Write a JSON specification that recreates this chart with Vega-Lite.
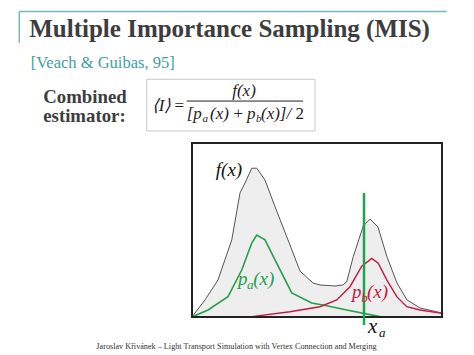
{
  "$schema": "https://vega.github.io/schema/vega-lite/v6.json",
  "width": 474,
  "height": 355,
  "autosize": {"type": "fit", "contains": "padding"},
  "padding": 0,
  "background": "white",
  "config": {"view": {"stroke": null}},
  "encoding": {
    "x": {"field": "x", "type": "quantitative", "scale": {"domain": [-7.68, 11.28], "nice": false, "zero": false}, "axis": null},
    "y": {"field": "y", "type": "quantitative", "scale": {"domain": [-2.184, 18.218], "nice": false, "zero": false}, "axis": null}
  },
  "layer": [
    {
      "data": {"values": [
        {"x": -6.908, "y": 17.55, "x2": 10.19, "y2": 17.55},
        {"x": -6.908, "y": 17.55, "x2": -6.908, "y2": 15.75}
      ]},
      "mark": {"type": "rule", "stroke": "#7ab6b9", "strokeWidth": 1.5},
      "encoding": {"x2": {"field": "x2"}, "y2": {"field": "y2"}}
    },
    {
      "data": {"values": [{"x": -6.51, "y": 16.11, "t": "Multiple Importance Sampling (MIS)"}]},
      "mark": {"type": "text", "align": "left", "baseline": "alphabetic", "font": "Liberation Serif, DejaVu Serif, serif", "fontWeight": "bold", "fontSize": 25, "color": "#3d3d3d"},
      "encoding": {"text": {"field": "t"}}
    },
    {
      "data": {"values": [{"x": -6.45, "y": 14.29, "t": "[Veach & Guibas, 95]"}]},
      "mark": {"type": "text", "align": "left", "baseline": "alphabetic", "font": "Liberation Serif, serif", "fontSize": 16.5, "color": "#3f9ea3"},
      "encoding": {"text": {"field": "t"}}
    },
    {
      "data": {"values": [
        {"x": -5.95, "y": 12.32, "t": "Combined"},
        {"x": -5.95, "y": 11.22, "t": "estimator:"}
      ]},
      "mark": {"type": "text", "align": "left", "baseline": "alphabetic", "font": "Liberation Serif, DejaVu Serif, serif", "fontWeight": "bold", "fontSize": 18.8, "color": "#3d3d3d"},
      "encoding": {"text": {"field": "t"}}
    },
    {
      "data": {"values": [{"x": -1.81, "x2": 4.92, "y": 13.66, "y2": 10.69}]},
      "mark": {"type": "rect", "fill": "white", "stroke": "#c8c8c8", "strokeWidth": 1},
      "encoding": {"x2": {"field": "x2"}, "y2": {"field": "y2"}}
    },
    {
      "data": {"values": [{"x": -0.212, "x2": 4.44, "y": 12.41, "y2": 12.41}]},
      "mark": {"type": "rule", "stroke": "#222", "strokeWidth": 1},
      "encoding": {"x2": {"field": "x2"}, "y2": {"field": "y2"}}
    },
    {
      "data": {"values": [
        {"x": -1.612, "y": 11.84, "t": "⟨I⟩"},
        {"x": -0.212, "y": 11.38, "t": "[p"},
        {"x": 0.72, "y": 11.38, "t": "(x)"},
        {"x": 2.2, "y": 11.38, "t": "p"},
        {"x": 2.76, "y": 11.38, "t": "(x)]/"}
      ]},
      "mark": {"type": "text", "align": "left", "baseline": "alphabetic", "font": "Liberation Serif, serif", "fontStyle": "italic", "fontSize": 17, "color": "#222"},
      "encoding": {"text": {"field": "t"}}
    },
    {
      "data": {"values": [
        {"x": -0.7, "y": 11.84, "t": "="},
        {"x": 1.66, "y": 11.38, "t": "+"},
        {"x": 4.14, "y": 11.38, "t": "2"}
      ]},
      "mark": {"type": "text", "align": "left", "baseline": "alphabetic", "font": "Liberation Serif, serif", "fontSize": 17, "color": "#222"},
      "encoding": {"text": {"field": "t"}}
    },
    {
      "data": {"values": [{"x": 2.08, "y": 12.7, "t": "f(x)"}]},
      "mark": {"type": "text", "align": "center", "baseline": "alphabetic", "font": "Liberation Serif, serif", "fontStyle": "italic", "fontSize": 17, "color": "#222"},
      "encoding": {"text": {"field": "t"}}
    },
    {
      "data": {"values": [
        {"x": 0.42, "y": 11.21, "t": "a"},
        {"x": 2.56, "y": 11.21, "t": "b"}
      ]},
      "mark": {"type": "text", "align": "left", "baseline": "alphabetic", "font": "Liberation Serif, serif", "fontStyle": "italic", "fontSize": 11, "color": "#222"},
      "encoding": {"text": {"field": "t"}}
    },
    {
      "data": {"values": [
        {"x": 0, "y": 0}, {"x": 0.52, "y": 0.98}, {"x": 1.04, "y": 2.13}, {"x": 1.59, "y": 4.43},
        {"x": 1.92, "y": 7.13}, {"x": 2.12, "y": 7.7}, {"x": 2.39, "y": 8.55}, {"x": 2.59, "y": 8.55},
        {"x": 2.92, "y": 7.87}, {"x": 3.32, "y": 6.34}, {"x": 3.84, "y": 4.43}, {"x": 4.32, "y": 2.64},
        {"x": 4.84, "y": 1.95}, {"x": 5.12, "y": 1.84}, {"x": 5.72, "y": 1.78}, {"x": 6.04, "y": 1.84},
        {"x": 6.19, "y": 2.03}, {"x": 6.45, "y": 3.47}, {"x": 6.85, "y": 5.23}, {"x": 7.12, "y": 5.63},
        {"x": 7.44, "y": 5.17}, {"x": 7.8, "y": 3.45}, {"x": 8.2, "y": 1.95}, {"x": 8.6, "y": 0.98},
        {"x": 9.12, "y": 0.52}, {"x": 10, "y": 0.23}
      ]},
      "layer": [
        {"mark": {"type": "area", "fill": "#eeeeee", "opacity": 1}, "encoding": {"y2": {"datum": 0}}},
        {"mark": {"type": "line", "stroke": "#555555", "strokeWidth": 1}}
      ]
    },
    {
      "data": {"values": [
        {"x": 0, "y": 0}, {"x": 0.64, "y": 0.4}, {"x": 1.44, "y": 1.17}, {"x": 1.99, "y": 2.7},
        {"x": 2.39, "y": 4.25}, {"x": 2.59, "y": 4.71}, {"x": 2.92, "y": 4.43}, {"x": 3.32, "y": 3.28},
        {"x": 3.99, "y": 1.38}, {"x": 4.79, "y": 0.8}, {"x": 5.39, "y": 0.65}, {"x": 6.19, "y": 0.4},
        {"x": 7.52, "y": 0.02}
      ]},
      "mark": {"type": "line", "stroke": "#22a04b", "strokeWidth": 1.6}
    },
    {
      "data": {"values": [
        {"x": 2.39, "y": 0.02}, {"x": 3.92, "y": 0.3}, {"x": 5.12, "y": 0.59}, {"x": 5.79, "y": 0.98},
        {"x": 6.32, "y": 1.74}, {"x": 6.79, "y": 2.92}, {"x": 7.19, "y": 3.37}, {"x": 7.45, "y": 3.09},
        {"x": 7.79, "y": 2.13}, {"x": 8.19, "y": 1.17}, {"x": 8.59, "y": 0.59}, {"x": 9.12, "y": 0.4},
        {"x": 10, "y": 0.21}
      ]},
      "mark": {"type": "line", "stroke": "#c8173f", "strokeWidth": 1.4}
    },
    {
      "data": {"values": [{"x": 0, "x2": 10, "y": 0, "y2": 10}]},
      "mark": {"type": "rect", "fill": null, "stroke": "#222222", "strokeWidth": 2},
      "encoding": {"x2": {"field": "x2"}, "y2": {"field": "y2"}}
    },
    {
      "data": {"values": [{"x": 6.88, "x2": 6.88, "y": -0.46, "y2": 7.13}]},
      "mark": {"type": "rule", "stroke": "#1fa34c", "strokeWidth": 2.5},
      "encoding": {"x2": {"field": "x2"}, "y2": {"field": "y2"}}
    },
    {
      "data": {"values": [{"x": 1.48, "y": 8.13, "t": "f(x)"}]},
      "mark": {"type": "text", "align": "center", "baseline": "alphabetic", "font": "Liberation Serif, serif", "fontStyle": "italic", "fontSize": 19, "color": "#111"},
      "encoding": {"text": {"field": "t"}}
    },
    {
      "data": {"values": [{"x": 1.84, "y": 1.84, "t": "p"}, {"x": 2.45, "y": 1.84, "t": "(x)"}]},
      "mark": {"type": "text", "align": "left", "baseline": "alphabetic", "font": "Liberation Serif, serif", "fontStyle": "italic", "fontSize": 19, "color": "#22a04b"},
      "encoding": {"text": {"field": "t"}}
    },
    {
      "data": {"values": [{"x": 2.2, "y": 1.61, "t": "a"}]},
      "mark": {"type": "text", "align": "left", "baseline": "alphabetic", "font": "Liberation Serif, serif", "fontStyle": "italic", "fontSize": 13, "color": "#22a04b"},
      "encoding": {"text": {"field": "t"}}
    },
    {
      "data": {"values": [{"x": 6.4, "y": 1.09, "t": "p"}, {"x": 7.0, "y": 1.09, "t": "(x)"}]},
      "mark": {"type": "text", "align": "left", "baseline": "alphabetic", "font": "Liberation Serif, serif", "fontStyle": "italic", "fontSize": 19, "color": "#c8173f"},
      "encoding": {"text": {"field": "t"}}
    },
    {
      "data": {"values": [{"x": 6.77, "y": 0.86, "t": "b"}]},
      "mark": {"type": "text", "align": "left", "baseline": "alphabetic", "font": "Liberation Serif, serif", "fontStyle": "italic", "fontSize": 13, "color": "#c8173f"},
      "encoding": {"text": {"field": "t"}}
    },
    {
      "data": {"values": [{"x": 7.04, "y": -0.92, "t": "x"}]},
      "mark": {"type": "text", "align": "left", "baseline": "alphabetic", "font": "Liberation Serif, serif", "fontStyle": "italic", "fontSize": 21, "color": "#111"},
      "encoding": {"text": {"field": "t"}}
    },
    {
      "data": {"values": [{"x": 7.48, "y": -1.15, "t": "a"}]},
      "mark": {"type": "text", "align": "left", "baseline": "alphabetic", "font": "Liberation Serif, serif", "fontStyle": "italic", "fontSize": 13, "color": "#111"},
      "encoding": {"text": {"field": "t"}}
    },
    {
      "data": {"values": [{"x": 1.78, "y": -1.84, "t": "Jaroslav Křivánek – Light Transport Simulation with Vertex Connection and Merging"}]},
      "mark": {"type": "text", "align": "center", "baseline": "alphabetic", "font": "Liberation Serif, serif", "fontSize": 8.2, "color": "#333"},
      "encoding": {"text": {"field": "t"}}
    }
  ]
}
